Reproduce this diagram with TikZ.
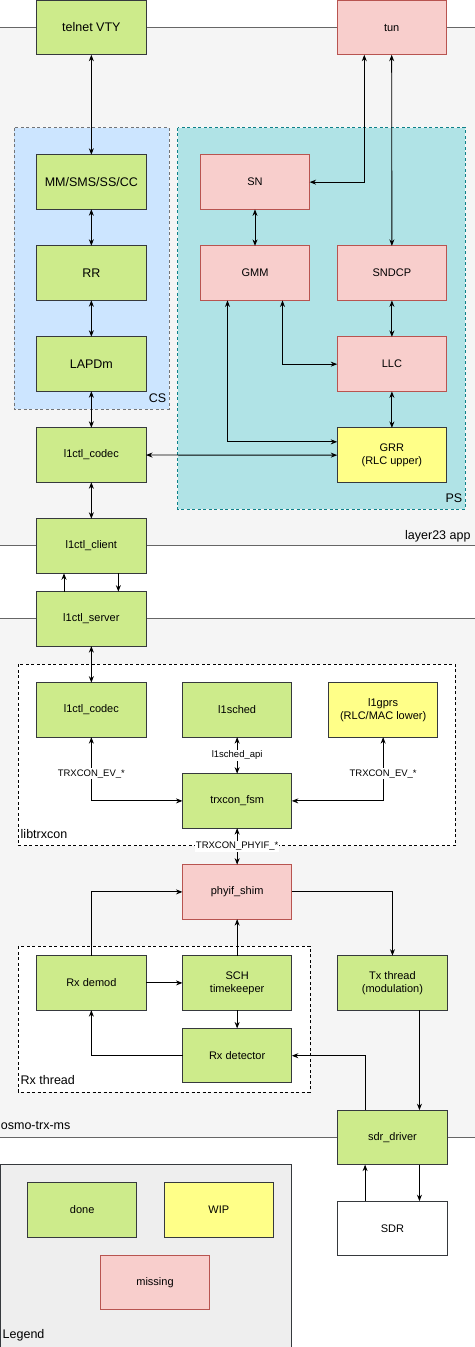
\documentclass[tikz,border=0pt]{standalone}
\usepackage{fontspec}
\setmainfont{Liberation Sans}
\usetikzlibrary{arrows.meta,positioning}
\definecolor{okfill}{HTML}{CDEB8B}
\definecolor{wipfill}{HTML}{FFFF88}
\definecolor{missfill}{HTML}{F8CECC}
\definecolor{missline}{HTML}{B85450}
\definecolor{darkline}{HTML}{36393D}
\definecolor{areafill}{HTML}{F5F5F5}
\definecolor{arealine}{HTML}{666666}
\definecolor{csfill}{HTML}{CCE5FF}
\definecolor{psfill}{HTML}{B0E3E6}
\definecolor{psline}{HTML}{0E8088}
\definecolor{legfill}{HTML}{EEEEEE}

\begin{document}
\begin{tikzpicture}[x=1pt,y=-1pt,node distance=36.5pt and 36.5pt,
 every node/.style={font=\fontsize{11}{13}\selectfont},
 box/.style={draw=darkline,line width=1pt,fill=okfill,align=center,minimum width=109.3pt,minimum height=54.5pt,inner sep=2pt,outer sep=0pt},
 big/.style={box,font=\fontsize{12.5}{14}\selectfont},
 wip/.style={box,fill=wipfill},
 miss/.style={box,draw=missline,fill=missfill},
 hw/.style={box,fill=white},
 area/.style={draw=arealine,line width=0.8pt,fill=areafill},
 group/.style={line width=0.8pt,dash pattern=on 3pt off 2.5pt},
 grouplbl/.style={font=\fontsize{12.5}{14}\selectfont,inner sep=0pt},
 lbl/.style={font=\fontsize{9.5}{11}\selectfont,fill=white,inner sep=1pt},
 arr/.style={-{Stealth[length=6.5pt,width=5pt]},line width=0.9pt},
 barr/.style={{Stealth[length=6.5pt,width=5pt]}-{Stealth[length=6.5pt,width=5pt]},line width=0.9pt}]
\useasboundingbox (0,0) rectangle (474,1347);
% areas
\draw[area](-2,27.7) rectangle (476,545.7);
\draw[area](-2,618.7) rectangle (476,1137);
\draw[group,draw=darkline!70,fill=csfill](14,127.7) rectangle (169,409.3);
\draw[group,draw=psline,fill=psfill](177.7,127.7) rectangle (465,509.3);
\draw[group,fill=white](18.3,664.3) rectangle (455.3,845.7);
\draw[group,fill=white](18.3,946.3) rectangle (310,1092);
\draw[draw=darkline,line width=0.8pt,fill=legfill](0,1164.3) rectangle (291.7,1350);
\node[grouplbl,anchor=east](l23) at (470.7,536){layer23 app};
\node[grouplbl,anchor=east](cs) at (166.5,398.5){CS};
\node[grouplbl,anchor=east](ps) at (462.5,497.7){PS};
\node[grouplbl,anchor=west](ltc) at (20.5,834){libtrxcon};
\node[grouplbl,anchor=west](rxt) at (20.5,1080){Rx thread};
\node[grouplbl,anchor=west](otm) at (0.7,1125.7){osmo-trx-ms};
\node[grouplbl,anchor=west](leg) at (2.5,1335){Legend};
% layer23
\node[big](telnet) at (91.35,27.5){telnet VTY};
\node[miss](tun) at (391.65,27.5){tun};
\node[big,below=100pt of telnet](mm){MM/SMS/SS/CC};
\node[big,below=of mm](rr){RR};
\node[big,below=of rr](lapdm){LAPDm};
\node[box,below=of lapdm](codec){l1ctl\_codec};
\node[box,below=of codec](client){l1ctl\_client};
\node[miss](sn) at (255,182.15){SN};
\node[miss,below=of sn](gmm){GMM};
\node[miss,right=27.6pt of gmm](sndcp){SNDCP};
\node[miss,below=of sndcp](llc){LLC};
\node[wip,below=of llc](grr){GRR\\(RLC upper)};
% trxcon
\node[box,below=18.4pt of client](server){l1ctl\_server};
\node[box,below=of server](codecb){l1ctl\_codec};
\node[box,right=of codecb](sched){l1sched};
\node[wip,right=36.7pt of sched](gprs){l1gprs\\(RLC/MAC lower)};
\node[box,below=of sched](fsm){trxcon\_fsm};
\node[miss,below=of fsm](phyif){phyif\_shim};
% osmo-trx-ms
\node[box,below=of phyif](sch){SCH\\timekeeper};
\node[box,left=of sch](demod){Rx demod};
\node[box,right=46pt of sch](tx){Tx thread\\(modulation)};
\node[box,below=18.3pt of sch](det){Rx detector};
\node[box,below=100pt of tx](drv){sdr\_driver};
\node[hw,below=of drv](sdr){SDR};
% legend
\node[box](done) at (82.2,1210){done};
\node[wip,right=27.3pt of done](wipkey){WIP};
\node[miss](misskey) at (155,1282.65){missing};
\draw[barr](telnet)--(mm);\draw[barr](mm)--(rr);\draw[barr](rr)--(lapdm);\draw[barr](lapdm)--(codec);\draw[barr](codec)--(client);
\draw[barr](codec)--(grr);\draw[barr]([xshift=-27.35pt]tun.south)|-(sn);\draw[barr](tun)--(sndcp);\draw[barr](sn)--(gmm);
\draw[barr]([xshift=27.5pt]gmm.south)|-(llc);\draw[barr]([xshift=-27.5pt]gmm.south)|-([yshift=13.3pt]grr.west);
\draw[barr](sndcp)--(llc);\draw[barr](llc)--(grr);
\draw[arr]([xshift=-27.35pt]server.north)--([xshift=-27.35pt]client.south);\draw[arr]([xshift=27pt]client.south)--([xshift=27pt]server.north);
\draw[barr](server)--(codecb);
\draw[barr](codecb)|-node[lbl,pos=0.287](ev1){TRXCON\_EV\_*}(fsm);
\draw[barr](gprs)|-node[lbl,pos=0.287](ev2){TRXCON\_EV\_*}(fsm);
\draw[barr](sched)--node[lbl](api){l1sched\_api}(fsm);
\draw[barr](fsm)--node[lbl](phy){TRXCON\_PHYIF\_*}(phyif);
\draw[arr](phyif)-|(tx);\draw[arr](demod)|-(phyif);\draw[arr](demod)--(sch);\draw[arr](sch)--(phyif);\draw[arr](sch)--(det);
\draw[arr](det)-|(demod);\draw[arr]([xshift=-27.35pt]drv.north)|-(det);\draw[arr]([xshift=27pt]tx.south)--([xshift=27pt]drv.north);
\draw[arr]([xshift=-27.35pt]sdr.north)--([xshift=-27.35pt]drv.south);\draw[arr]([xshift=27pt]drv.south)--([xshift=27pt]sdr.north);
\end{tikzpicture}
\end{document}
